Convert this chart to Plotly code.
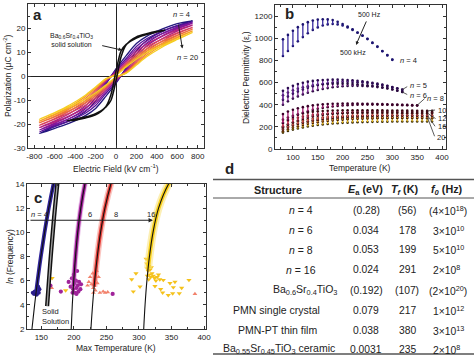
import plotly.graph_objects as go

W, H = 474, 355
FONT = "Liberation Sans, Arial, sans-serif"

# ---------------- Panel a: P-E loops ----------------
E_GRID = [-750, -600, -450, -300, -200, -100, 0, 100, 200, 300, 450, 600, 750]
A_NAMES = ["n=4", "n=5", "n=6", "n=8", "n=10", "n=12", "n=16", "n=20"]
A_COLORS = ["#24177e", "#571199", "#86169a", "#b2237f", "#d8435e", "#ee6f3e", "#f6a128", "#f6cd22"]
A_ASC = [
    [-24.0, -21.8, -19.5, -16.5, -13.5, -8.5, -3.0, 3.5, 10.5, 14.8, 18.5, 21.0, 23.0],
    [-23.3, -21.0, -18.6, -15.5, -12.3, -7.3, -2.5, 3.0, 9.2, 13.6, 17.6, 20.4, 22.6],
    [-22.5, -20.2, -17.6, -14.5, -11.3, -6.5, -2.0, 2.5, 8.0, 12.5, 16.6, 19.6, 22.0],
    [-21.5, -19.2, -16.5, -13.3, -10.2, -5.8, -1.5, 2.0, 7.0, 11.3, 15.5, 18.7, 21.2],
    [-20.5, -18.0, -15.3, -12.2, -9.2, -5.2, -1.0, 1.8, 6.2, 10.3, 14.5, 17.7, 20.3],
    [-19.5, -17.0, -14.3, -11.2, -8.3, -4.6, -0.8, 1.5, 5.5, 9.4, 13.5, 16.8, 19.5],
    [-18.8, -16.2, -13.4, -10.4, -7.6, -4.2, -0.6, 1.3, 5.0, 8.6, 12.7, 15.9, 18.8],
    [-18.0, -15.4, -12.6, -9.7, -7.0, -3.8, -0.4, 1.2, 4.6, 8.0, 12.0, 15.2, 18.2],
]
A_DESC = [
    [-24.0, -21.0, -18.5, -14.8, -10.5, -3.5, 3.0, 8.5, 13.5, 16.5, 19.5, 21.8, 23.0],
    [-23.3, -20.4, -17.6, -13.6, -9.2, -3.0, 2.5, 7.3, 12.3, 15.5, 18.6, 21.0, 22.6],
    [-22.5, -19.6, -16.6, -12.5, -8.0, -2.5, 2.0, 6.5, 11.3, 14.5, 17.6, 20.2, 22.0],
    [-21.5, -18.7, -15.5, -11.3, -7.0, -2.0, 1.5, 5.8, 10.2, 13.3, 16.5, 19.2, 21.2],
    [-20.5, -17.7, -14.5, -10.3, -6.2, -1.8, 1.0, 5.2, 9.2, 12.2, 15.3, 18.0, 20.3],
    [-19.5, -16.8, -13.5, -9.4, -5.5, -1.5, 0.8, 4.6, 8.3, 11.2, 14.3, 17.0, 19.5],
    [-18.8, -15.9, -12.7, -8.6, -5.0, -1.3, 0.6, 4.2, 7.6, 10.4, 13.4, 16.2, 18.8],
    [-18.0, -15.2, -12.0, -8.0, -4.6, -1.2, 0.4, 3.8, 7.0, 9.7, 12.6, 15.4, 18.2],
]
E_BST = [-480, -400, -300, -200, -100, -50, 0, 50, 100, 200, 300, 400, 480]
BST_ASC = [-18.6, -18.0, -17.1, -15.7, -13.0, -10.2, -2.0, 8.0, 13.0, 16.3, 17.6, 18.6, 19.1]
BST_DESC = [-18.6, -18.4, -17.5, -16.2, -12.8, -7.8, 2.0, 10.5, 13.2, 15.8, 17.3, 18.3, 19.1]
A_XTICKS = [-800, -600, -400, -200, 0, 200, 400, 600, 800]
A_YTICKS = [-30, -20, -10, 0, 10, 20, 30]

# ---------------- Panel b: permittivity ----------------
T_B = [80, 90, 100, 110, 120, 130, 140, 150, 160, 170, 180, 190, 200, 210, 220, 230,
       240, 250, 260, 270, 280, 290, 300, 310, 320, 330, 340, 350, 360, 370, 380]
B_NAMES = ["n=20", "n=16", "n=12", "n=10", "n=8", "n=6", "n=5", "n=4"]
B_UP = [
    [190, 205, 218, 229, 238, 246, 253, 259, 264, 268, 271, 274, 276, 278, 279, 280, 281, 281, 282, 282, 282, 282, 282, 282, 282, 282, 282, 281, 281, 281, 280],
    [205, 222, 236, 248, 258, 266, 273, 279, 284, 288, 291, 294, 296, 298, 299, 300, 301, 301, 302, 302, 302, 302, 302, 302, 302, 302, 301, 301, 301, 300, 300],
    [235, 255, 270, 282, 292, 300, 306, 311, 315, 318, 320, 322, 323, 324, 325, 325, 325, 325, 325, 325, 325, 324, 324, 324, 323, 323, 322, 322, 321, 321, 320],
    [265, 285, 300, 312, 322, 330, 336, 340, 343, 345, 347, 348, 349, 350, 350, 350, 350, 350, 350, 349, 349, 348, 348, 347, 347, 346, 346, 345, 345, 344, 344],
    [315, 338, 355, 368, 378, 387, 394, 399, 403, 406, 408, 409, 410, 410, 410, 410, 409, 408, 407, 406, 405, 404, 402, 401, 399, 398, 396, 395],
    [485, 510, 530, 545, 557, 567, 574, 580, 584, 587, 589, 590, 590, 589, 587, 584, 580, 576, 571, 565, 558, 550, 540, 528, 516],
    [525, 550, 570, 586, 598, 608, 615, 620, 623, 625, 626, 626, 625, 623, 620, 616, 611, 605, 598, 590, 581, 571, 560, 548, 536],
    [990, 1030, 1068, 1100, 1125, 1145, 1160, 1168, 1172, 1170, 1165, 1148, 1128, 1105, 1080, 1052, 1025, 995, 960, 925, 885, 848, 808],
]
B_LO = [
    [148, 162, 175, 186, 195, 203, 210, 216, 221, 226, 230, 233, 236, 238, 240, 242, 243, 244, 245, 246, 247, 247, 248, 248, 248, 248, 248, 248, 248, 248, 248],
    [160, 178, 193, 206, 217, 227, 235, 242, 248, 253, 258, 262, 265, 268, 270, 272, 274, 275, 276, 277, 278, 278, 279, 279, 279, 279, 279, 279, 279, 278, 278],
    [175, 195, 212, 226, 238, 248, 257, 264, 270, 275, 280, 284, 287, 290, 292, 294, 296, 297, 298, 299, 300, 300, 300, 300, 300, 300, 300, 300, 299, 299, 298],
    [195, 220, 240, 257, 271, 283, 293, 301, 308, 314, 319, 323, 326, 329, 331, 333, 334, 335, 336, 336, 336, 336, 336, 335, 335, 335, 334, 334, 333, 333, 332],
    [235, 265, 290, 310, 327, 341, 353, 363, 371, 378, 384, 389, 393, 396, 398, 400, 401, 401, 401, 401, 400, 399, 398, 397, 396, 395, 393, 392],
    [400, 430, 455, 475, 493, 508, 521, 532, 542, 550, 557, 562, 566, 569, 570, 570, 569, 567, 564, 559, 553, 546, 537, 526, 514],
    [445, 475, 500, 520, 538, 553, 566, 577, 586, 594, 600, 604, 606, 606, 605, 603, 600, 596, 591, 585, 578, 569, 558, 546, 534],
    [840, 885, 930, 972, 1010, 1045, 1075, 1098, 1115, 1125, 1128, 1125, 1115, 1098, 1075, 1049, 1022, 992, 957, 922, 882, 845, 805],
]
B_DOT = ["#3a2a00", "#4a2000", "#4a1010", "#3a0a14", "#3a0028", "#2a0a40", "#2a0a50", "#1c1470"]
B_BAR = ["#f3c21e", "#f19232", "#e85a5a", "#c9325a", "#a4186f", "#7a2890", "#6b2aa0", "#3a2ca0"]
B_FILL = ["rgba(250,210,60,0.8)", "rgba(248,170,80,0.7)", "rgba(245,130,120,0.65)",
          "rgba(230,90,110,0.55)", "rgba(205,80,150,0.5)", "rgba(190,120,205,0.6)",
          "rgba(180,130,220,0.6)", "rgba(160,150,232,0.75)"]
B_XTICKS = [100, 150, 200, 250, 300, 350, 400]
B_YTICKS = [0, 200, 400, 600, 800, 1000, 1200]

# ---------------- Panel c: ln f vs Tmax ----------------
LNF_FIT = [2, 4, 6, 8, 10, 12, 14, 15]
FIT_T4 = [135.6, 139.7, 144.2, 149.3, 155.0, 161.4, 168.7, 172.7]
FIT_T6 = [195.9, 197.6, 199.8, 202.5, 205.9, 210.6, 217.0, 221.3]
FIT_T8 = [226.2, 228.8, 232.0, 236.0, 241.0, 247.7, 256.8, 262.8]
FIT_T16 = [307.3, 309.4, 312.2, 316.1, 321.6, 330.1, 345.5, 358.7]
LNF_BST = [3.9, 6, 8, 10, 12, 14, 15]
FIT_TBST = [158.9, 161.7, 164.5, 167.6, 170.9, 174.6, 176.6]
BAND4_LNF = [5, 6, 8, 10, 12, 14, 15]
BAND4_T = [141.9, 144.2, 149.3, 155.0, 161.4, 168.7, 172.7]
BAND6_LNF = [5.5, 6, 8, 10, 12, 14, 15]
BAND6_T = [199.2, 199.8, 202.5, 205.9, 210.6, 217.0, 221.3]
BAND8_LNF = [5.5, 6, 8, 10, 12, 14, 15]
BAND8_T = [231.1, 232.0, 236.0, 241.0, 247.7, 256.8, 262.8]
BAND16_LNF = [7, 8, 10, 12, 14, 15]
BAND16_T = [314.0, 316.1, 321.6, 330.1, 345.5, 358.7]

P4_T = [137, 139, 140, 142, 143, 144, 146, 147, 145]
P4_L = [5.0, 4.9, 5.1, 5.0, 4.85, 5.2, 5.0, 5.3, 5.5]
P6_T = [180, 164, 192, 195, 197, 199, 200, 201, 202, 203, 204, 205, 206, 207, 208, 210, 211, 204, 198, 259.6]
P6_L = [5.1, 5.6, 5.9, 5.5, 6.2, 5.3, 6.5, 5.8, 5.0, 6.0, 5.4, 6.8, 5.6, 5.1, 5.9, 5.3, 5.7, 4.9, 5.0, 4.9]
P8_T = [166, 221, 223, 225, 227, 229, 230, 232, 233, 235, 236, 238, 230, 240, 245, 248, 252, 386]
P8_L = [5.4, 5.6, 5.9, 6.3, 5.7, 6.6, 5.4, 6.1, 5.2, 6.8, 5.8, 6.3, 5.0, 5.0, 5.1, 5.0, 5.05, 4.9]
P16_T = [166.5, 187.4, 288.8, 295.4, 291.3, 301.6, 324.6, 333.4, 337.4, 336.4, 345, 347.7, 352.8,
         355.3, 351.8, 365.6, 362, 376.8, 312, 313, 314, 315, 316, 317, 318, 319, 320, 322, 324,
         326, 328, 330, 332, 315, 313, 311]
P16_L = [6.2, 5.2, 6.1, 6.6, 5.1, 5.5, 5.55, 5.3, 6.05, 5.0, 4.8, 5.8, 5.45, 5.9, 4.95, 5.4, 4.95,
         6.05, 7.4, 7.0, 6.8, 7.2, 6.5, 6.9, 6.3, 7.1, 6.6, 6.4, 6.2, 6.0, 6.3, 6.5, 6.1, 6.1, 6.4, 7.8]
C_XTICKS = [150, 200, 250, 300, 350, 400]
C_YTICKS = [2, 4, 6, 8, 10, 12, 14]

# ---------------- Panel d: table ----------------
D_HEAD = ["<b>Structure</b>", "<b><i>E</i><sub>a</sub> (eV)</b>", "<b><i>T<sub>f</sub></i> (K)</b>",
          "<b><i>f<sub>0</sub></i> (Hz)</b>"]
D_STRUCT = ["<i>n</i> = 4", "<i>n</i> = 6", "<i>n</i> = 8", "<i>n</i> = 16",
            "Ba<sub>0.6</sub>Sr<sub>0.4</sub>TiO<sub>3</sub>", "PMN single crystal",
            "PMN-PT thin film", "Ba<sub>0.55</sub>Sr<sub>0.45</sub>TiO<sub>3</sub> ceramic"]
D_EA = ["(0.28)", "0.034", "0.053", "0.024", "(0.192)", "0.079", "0.038", "0.0031"]
D_TF = ["(56)", "178", "199", "291", "(107)", "217", "380", "235"]
D_F0 = ["(4×10<sup>18</sup>)", "3×10<sup>10</sup>", "5×10<sup>10</sup>", "2×10<sup>8</sup>",
        "(2×10<sup>20</sup>)", "1×10<sup>12</sup>", "3×10<sup>13</sup>", "2×10<sup>8</sup>"]


def fx(x):
    return x / W


def fy(y):
    return 1 - y / H


fig = go.Figure()

# ---- panel a traces
for i in range(len(A_NAMES)):
    fig.add_trace(go.Scatter(
        x=E_GRID + E_GRID[::-1], y=A_ASC[i] + A_DESC[i][::-1],
        mode="lines", line=dict(color=A_COLORS[i], width=1.3, shape="spline", smoothing=0.8),
        xaxis="x", yaxis="y", showlegend=False, hoverinfo="skip"))
fig.add_trace(go.Scatter(
    x=E_BST + E_BST[::-1], y=BST_ASC + BST_DESC[::-1],
    mode="lines", line=dict(color="#111111", width=1.5, shape="spline", smoothing=0.8),
    xaxis="x", yaxis="y", showlegend=False, hoverinfo="skip"))

# ---- panel b traces
for i in range(len(B_NAMES)):
    n = len(B_UP[i])
    t = T_B[:n]
    fig.add_trace(go.Scatter(
        x=t, y=B_LO[i], mode="markers",
        marker=dict(size=2.6, color=B_DOT[i]),
        xaxis="x2", yaxis="y2", showlegend=False, hoverinfo="skip"))
    fig.add_trace(go.Scatter(
        x=t, y=B_UP[i], mode="markers", fill="tonexty", fillcolor=B_FILL[i],
        marker=dict(size=2.6, color=B_DOT[i]),
        error_y=dict(type="data", symmetric=False, array=[0] * n,
                     arrayminus=[u - l for u, l in zip(B_UP[i], B_LO[i])],
                     width=0, thickness=1.3, color=B_BAR[i]),
        xaxis="x2", yaxis="y2", showlegend=False, hoverinfo="skip"))


# ---- panel c traces
def cline(x, y, color, width):
    fig.add_trace(go.Scatter(x=x, y=y, mode="lines",
                             line=dict(color=color, width=width, shape="spline"),
                             xaxis="x3", yaxis="y3", showlegend=False, hoverinfo="skip"))


def cpts(x, y, color, symbol, size=4.5):
    fig.add_trace(go.Scatter(x=x, y=y, mode="markers",
                             marker=dict(color=color, symbol=symbol, size=size),
                             xaxis="x3", yaxis="y3", showlegend=False, hoverinfo="skip"))


cpts(P16_T, P16_L, "#f5c21b", "triangle-down", 4.6)
cpts(P8_T, P8_L, "#f2826c", "triangle-up", 4.2)
cpts(P6_T, P6_L, "#a0239a", "circle", 4.2)
cpts(P4_T, P4_L, "#2b1d8c", "circle", 4.2)

cline(BAND16_T, BAND16_LNF, "rgba(250,225,120,0.55)", 8)
cline(BAND16_T, BAND16_LNF, "#f8cf18", 4)
cline(BAND8_T, BAND8_LNF, "rgba(245,140,130,0.5)", 6.5)
cline(BAND8_T, BAND8_LNF, "#e8403a", 3.5)
cline(BAND6_T, BAND6_LNF, "rgba(200,100,200,0.4)", 5.5)
cline(BAND6_T, BAND6_LNF, "#a3209c", 3.5)
cline(BAND4_T, BAND4_LNF, "#2f239a", 3.8)
cline(FIT_TBST, LNF_BST, "#111111", 4.2)
cline(FIT_TBST, LNF_BST, "#a0a0a0", 1.3)
for ft in (FIT_T4, FIT_T6, FIT_T8, FIT_T16):
    cline(ft, LNF_FIT, "#111111", 1.1)


# ---------------- axes ----------------
def axis(domain, rng, ticks, anchor, minor_dtick, minor_tick0, zero=False):
    return dict(domain=domain, range=rng, anchor=anchor,
                tickmode="array", tickvals=ticks, ticktext=[str(v) for v in ticks],
                ticks="inside", ticklen=3, tickwidth=1, tickcolor="#333",
                showline=True, linecolor="#333", linewidth=1, mirror="allticks",
                showgrid=False, zeroline=zero, zerolinecolor="#222", zerolinewidth=1,
                tickfont=dict(size=8, color="#222", family=FONT),
                minor=dict(ticks="inside", ticklen=1.8, dtick=minor_dtick, tick0=minor_tick0,
                           tickcolor="#333", showgrid=False),
                automargin=False, fixedrange=True)


layout = dict(
    width=W, height=H, margin=dict(l=0, r=0, t=0, b=0, pad=0), autosize=False,
    paper_bgcolor="white", plot_bgcolor="white",
    font=dict(family=FONT, color="#222"),
    xaxis=axis([fx(28), fx(204)], [-862, 862], A_XTICKS, "y", 100, 0, zero=True),
    yaxis=axis([fy(148), fy(4)], [-30, 30], A_YTICKS, "x", 5, 0, zero=True),
    xaxis2=axis([fx(275), fx(446)], [64, 408], B_XTICKS, "y2", 25, 0),
    yaxis2=axis([fy(149), fy(5)], [0, 1300], B_YTICKS, "x2", 100, 0),
    xaxis3=axis([fx(27), fx(206)], [128, 403], C_XTICKS, "y3", 25, 0),
    yaxis3=axis([fy(329), fy(184)], [2, 14], C_YTICKS, "x3", 1, 0),
)

ann = []


def ptext(x, y, text, size, xanchor="center", **kw):
    d = dict(x=fx(x), y=fy(y), xref="paper", yref="paper", text=text, showarrow=False,
             xanchor=xanchor, yanchor="middle",
             font=dict(size=size, family=FONT, color="#222"))
    d.update(kw)
    ann.append(d)


def dtext(xr, yr, x, y, text, size, xanchor="center", **kw):
    d = dict(x=x, y=y, xref=xr, yref=yr, text=text, showarrow=False,
             xanchor=xanchor, yanchor="middle",
             font=dict(size=size, family=FONT, color="#222"))
    d.update(kw)
    ann.append(d)


def darrow(xr, yr, x0, y0, x1, y1, head=2, size=0.7, width=1.0):
    ann.append(dict(x=x1, y=y1, ax=x0, ay=y0, xref=xr, yref=yr, axref=xr, ayref=yr,
                    text="", showarrow=True, arrowhead=head, arrowsize=size,
                    arrowwidth=width, arrowcolor="#222"))


# panel letters
ptext(37, 15, "<b>a</b>", 15)
ptext(289, 14, "<b>b</b>", 15)
ptext(38, 197, "<b>c</b>", 15)
ptext(229, 168, "<b>d</b>", 15)

# axis titles
ptext(8, 76, "Polarization (μC cm<sup>-2</sup>)", 8.5, textangle=-90)
ptext(116, 168, "Electric Field (kV cm<sup>-1</sup>)", 8.5)
ptext(247, 77, "Dielectric Permittivity (ε<sub>r</sub>)", 8.5, textangle=-90)
ptext(360, 168, "Temperature (K)", 8.5)
ptext(10, 257, "<i>ln</i> (Frequency)", 8.5, textangle=-90)
ptext(116, 348, "Max Temperature (K)", 8.5)

# panel a annotations
darrow("x", "y", -150, 12.8, 59, 10.8)
dtext("x", "y", -440, 15, "Ba<sub>0.6</sub>Sr<sub>0.4</sub>TiO<sub>3</sub><br>solid solution", 7)
darrow("x", "y", 610, 22, 650, 11.5)
dtext("x", "y", 640, 25.5, "<i>n</i> = 4", 7.5)
dtext("x", "y", 700, 7.8, "<i>n</i> = 20", 7.5)

# panel b annotations
darrow("x2", "y2", 249, 1165, 227, 940)
dtext("x2", "y2", 255, 1210, "500 Hz", 7)
dtext("x2", "y2", 221, 875, "500 kHz", 7)
b_labels = [("<i>n</i> = 4", 311, 800), ("<i>n</i> = 5", 331, 569), ("<i>n</i> = 6", 331, 487),
            ("<i>n</i> = 8", 366, 460), ("10", 387, 352), ("12", 388, 271), ("16", 387, 199),
            ("20", 386, 108)]
for txt, tx, ty in b_labels:
    dtext("x2", "y2", tx, ty, txt, 7.5, xanchor="left")
b_leaders = [(320, 536, 330, 563), (320, 514, 330, 492), (350, 395, 365, 455),
             (371, 344, 386, 352), (371, 322, 387, 275), (371, 301, 386, 205), (371, 281, 385, 115)]
shapes = []
for x0, y0, x1, y1 in b_leaders:
    shapes.append(dict(type="line", xref="x2", yref="y2", x0=x0, y0=y0, x1=x1, y1=y1,
                       line=dict(color="#333", width=0.8)))

# panel c annotations
darrow("x3", "y3", 131, 11, 321.5, 11, size=0.8, width=1.1)
for txt, tx in [("<i>n</i> = 4", 131), ("6", 218), ("8", 258), ("16", 310)]:
    dtext("x3", "y3", tx, 11.45, txt, 7.5, xanchor="left")
dtext("x3", "y3", 148.5, 3.0, "Solid<br>Solution", 7.5, xanchor="left", align="left")

# panel d table
ROW_Y = [210, 230, 250, 269.5, 290, 310, 330, 349]
STRUCT_X = [301, 301, 301, 301, 305, 276, 277, 279]
HEAD_X = [278, 365, 405, 447]
for hx, htxt in zip(HEAD_X, D_HEAD):
    ptext(hx, 190, htxt, 10.8)
for i in range(len(D_STRUCT)):
    ptext(STRUCT_X[i], ROW_Y[i], D_STRUCT[i], 10.5)
    ptext(366, ROW_Y[i], D_EA[i], 10.3)
    ptext(407, ROW_Y[i], D_TF[i], 10.3)
    ptext(427 if D_F0[i].startswith("(") else 431, ROW_Y[i], D_F0[i], 10.3, xanchor="left")

for yline, wline in [(179.5, 1.6), (198, 1.0), (354, 1.6)]:
    shapes.append(dict(type="line", xref="paper", yref="paper", x0=fx(213), x1=1.0,
                       y0=fy(yline), y1=fy(yline), line=dict(color="#555", width=wline)))

layout["annotations"] = ann
layout["shapes"] = shapes
fig.update_layout(**layout)
fig.write_html("out.html", config={"staticPlot": True},
               post_script="document.body.style.margin='0';document.body.style.overflow='hidden';")
